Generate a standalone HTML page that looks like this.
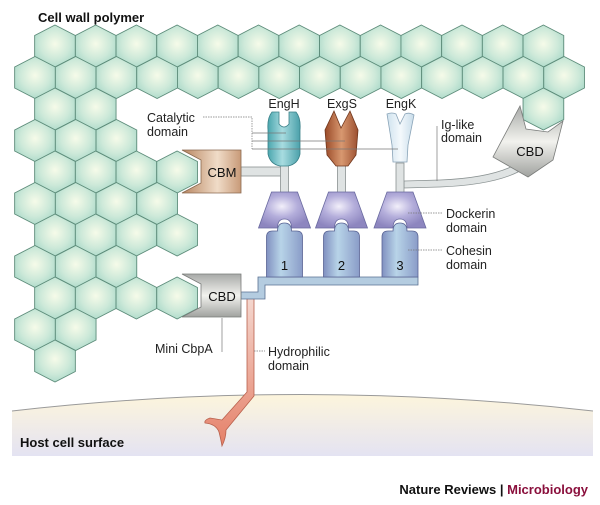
<!DOCTYPE html>
<html><head><meta charset="utf-8"><style>
html,body{margin:0;padding:0;background:#fff;}
svg{display:block;font-family:"Liberation Sans",sans-serif;}
</style></head><body>
<svg width="600" height="505" viewBox="0 0 600 505" xmlns="http://www.w3.org/2000/svg">
<defs>
<radialGradient id="hg" cx="0.5" cy="0.45" r="0.6">
<stop offset="0" stop-color="#f6fbe9"/><stop offset="0.6" stop-color="#cde9d9"/><stop offset="1" stop-color="#a9d8c8"/></radialGradient>
<polygon id="hx" points="0,-21 20.35,-10.5 20.35,10.5 0,21 -20.35,10.5 -20.35,-10.5" fill="url(#hg)" stroke="#5d8c7a" stroke-width="0.9"/>
<linearGradient id="host" x1="0" y1="0" x2="0" y2="1"><stop offset="0" stop-color="#fdf5dc"/><stop offset="1" stop-color="#e4e3f2"/></linearGradient>
<linearGradient id="cbm" x1="0" y1="0" x2="1" y2="0"><stop offset="0" stop-color="#b88560"/><stop offset="0.6" stop-color="#f0dcc8"/><stop offset="1" stop-color="#c89a78"/></linearGradient>
<linearGradient id="cbd" x1="0" y1="0" x2="0" y2="1"><stop offset="0" stop-color="#a8aaa8"/><stop offset="0.5" stop-color="#f2f2ee"/><stop offset="1" stop-color="#a0a29f"/></linearGradient>
<linearGradient id="rod" x1="0" y1="0" x2="0" y2="1"><stop offset="0" stop-color="#f4d8d0"/><stop offset="1" stop-color="#e58068"/></linearGradient>
<radialGradient id="dock" cx="0.45" cy="0.4" r="0.6"><stop offset="0" stop-color="#f2effa"/><stop offset="0.5" stop-color="#b4aedb"/><stop offset="1" stop-color="#8d86bf"/></radialGradient>
<linearGradient id="coh" x1="0" y1="0" x2="1" y2="0"><stop offset="0" stop-color="#8090c0"/><stop offset="0.4" stop-color="#b8d4e8"/><stop offset="1" stop-color="#8a9cc8"/></linearGradient>
<linearGradient id="engh" x1="0" y1="0" x2="1" y2="0"><stop offset="0" stop-color="#4aa6ae"/><stop offset="0.45" stop-color="#a8dce0"/><stop offset="1" stop-color="#4aa0aa"/></linearGradient>
<linearGradient id="exgs" x1="0" y1="0" x2="1" y2="0"><stop offset="0" stop-color="#9a4a28"/><stop offset="0.5" stop-color="#d89870"/><stop offset="1" stop-color="#9c5030"/></linearGradient>
<linearGradient id="engk" x1="0" y1="0" x2="1" y2="0"><stop offset="0" stop-color="#cfe2ee"/><stop offset="0.5" stop-color="#f4f9fc"/><stop offset="1" stop-color="#c8dcea"/></linearGradient>
<g id="mod">
<rect x="-4" y="163" width="8" height="31" fill="#dfe3e3" stroke="#8a9292" stroke-width="0.8"/>
<path d="M-13,192 L13,192 L26,228 L7,228 C7,222 5,219 0,219 C-5,219 -7,222 -7,228 L-26,228 Z" fill="url(#dock)" stroke="#6a6aa0" stroke-width="0.8"/>
<path d="M-18,237 Q-18,231 -12,231 L-7,231 C-7,226 -5,223 0,223 C5,223 7,226 7,231 L12,231 Q18,231 18,237 L18,277 L-18,277 Z" fill="url(#coh)" stroke="#5a6494" stroke-width="0.8"/>
</g>
</defs>

<!-- host cell -->
<path d="M12,411 Q300,378 593,411 L593,456 L12,456 Z" fill="url(#host)"/>
<path d="M12,411 Q300,378 593,411" fill="none" stroke="#9a9a9a" stroke-width="1"/>

<!-- hexes -->
<g>
<use href="#hx" x="55" y="46"/><use href="#hx" x="95.7" y="46"/><use href="#hx" x="136.4" y="46"/><use href="#hx" x="177.1" y="46"/><use href="#hx" x="217.8" y="46"/><use href="#hx" x="258.5" y="46"/><use href="#hx" x="299.2" y="46"/><use href="#hx" x="339.9" y="46"/><use href="#hx" x="380.6" y="46"/><use href="#hx" x="421.3" y="46"/><use href="#hx" x="462" y="46"/><use href="#hx" x="502.7" y="46"/><use href="#hx" x="543.4" y="46"/>
<use href="#hx" x="35" y="77.5"/><use href="#hx" x="75.7" y="77.5"/><use href="#hx" x="116.4" y="77.5"/><use href="#hx" x="157.1" y="77.5"/><use href="#hx" x="197.8" y="77.5"/><use href="#hx" x="238.5" y="77.5"/><use href="#hx" x="279.2" y="77.5"/><use href="#hx" x="319.9" y="77.5"/><use href="#hx" x="360.6" y="77.5"/><use href="#hx" x="401.3" y="77.5"/><use href="#hx" x="442" y="77.5"/><use href="#hx" x="482.7" y="77.5"/><use href="#hx" x="523.4" y="77.5"/><use href="#hx" x="564.1" y="77.5"/>
<use href="#hx" x="55" y="109"/><use href="#hx" x="95.7" y="109"/><use href="#hx" x="543.4" y="109"/>
<use href="#hx" x="35" y="140.5"/><use href="#hx" x="75.7" y="140.5"/><use href="#hx" x="116.4" y="140.5"/>
<use href="#hx" x="55" y="172"/><use href="#hx" x="95.7" y="172"/><use href="#hx" x="136.4" y="172"/><use href="#hx" x="177.1" y="172"/>
<use href="#hx" x="35" y="203.5"/><use href="#hx" x="75.7" y="203.5"/><use href="#hx" x="116.4" y="203.5"/><use href="#hx" x="157.1" y="203.5"/>
<use href="#hx" x="55" y="235"/><use href="#hx" x="95.7" y="235"/><use href="#hx" x="136.4" y="235"/><use href="#hx" x="177.1" y="235"/>
<use href="#hx" x="35" y="266.5"/><use href="#hx" x="75.7" y="266.5"/><use href="#hx" x="116.4" y="266.5"/>
<use href="#hx" x="55" y="298"/><use href="#hx" x="95.7" y="298"/><use href="#hx" x="136.4" y="298"/><use href="#hx" x="177.1" y="298"/>
<use href="#hx" x="35" y="329.5"/><use href="#hx" x="75.7" y="329.5"/>
<use href="#hx" x="55" y="361"/>
</g>

<!-- CBM -->
<rect x="241" y="167" width="42" height="9" fill="#dfe3e3" stroke="#8a9292" stroke-width="0.8"/>
<polygon points="182,150 241,150 241,193 182,193 201,183 201,160" fill="url(#cbm)" stroke="#8a6a50" stroke-width="0.8"/>
<text x="222" y="177" font-size="13" text-anchor="middle" fill="#111">CBM</text>

<!-- hydrophilic rod -->
<path d="M247,297 L247,392 L222,420 L210,418 Q204,420 205,423 Q216,424 219,432 Q221,440 222,446 Q226,438 226,430 L254,396 L254,297 Z" fill="url(#rod)" stroke="#b8604c" stroke-width="0.8"/>

<!-- base bar -->
<path d="M241,292 L258,292 L258,277 L418,277 L418,285 L265,285 L265,299 L241,299 Z" fill="#b4cce0" stroke="#5a7092" stroke-width="0.8"/>
<!-- CBD lower -->
<polygon points="182,274 241,274 241,317 182,317 201,307 201,284" fill="url(#cbd)" stroke="#7a7c7a" stroke-width="0.8"/>
<text x="222" y="301" font-size="13" text-anchor="middle" fill="#111">CBD</text>

<!-- Ig-like connector -->
<path d="M404,181 L440,180 Q490,178 515,165 L518,172 Q492,185 440,187 L404,188 Z" fill="#dfe3e3" stroke="#8a9292" stroke-width="0.8"/>
<!-- CBD right -->
<polygon points="520,106 526,129 548,132 563,121 553,160 528,177 493,157" fill="url(#cbd)" stroke="#7a7c7a" stroke-width="0.8"/>
<text x="530" y="156" font-size="13" text-anchor="middle" fill="#111">CBD</text>

<!-- modules -->
<use href="#mod" x="284.5"/>
<use href="#mod" x="341.5"/>
<use href="#mod" x="400"/>
<text x="284.5" y="270" font-size="13" text-anchor="middle" fill="#111">1</text>
<text x="341.5" y="270" font-size="13" text-anchor="middle" fill="#111">2</text>
<text x="400" y="270" font-size="13" text-anchor="middle" fill="#111">3</text>

<!-- catalytic domains -->
<path d="M272,112 L279,112 L279,124 Q284,130 289,124 L289,112 L296,112 Q301,118 300,130 L300,154 Q298,164 288,166 L280,166 Q270,164 268,154 L268,130 Q267,118 272,112 Z" fill="url(#engh)" stroke="#3a8088" stroke-width="0.8"/>
<path d="M334,111 L341,128 L350,111 L358,130 L356,155 L348,166 L336,166 L327,155 L325,130 Z" fill="url(#exgs)" stroke="#70361c" stroke-width="0.8"/>
<path d="M387,114 Q392,112 396,114 L400,124 L405,114 Q409,112 414,115 L408,145 L407,162 L393,162 L392,145 Z" fill="url(#engk)" stroke="#8aa4b8" stroke-width="0.8"/>

<!-- leader lines -->
<g stroke="#777" stroke-width="0.7" fill="none">
<path d="M203,117 L252,117 L252,149" stroke-dasharray="1.5,1"/>
<path d="M252,133 L286,133 M252,141 L345,141 M252,149 L398,149"/>
<path d="M437,126 L437,181"/>
<path d="M408,213 L443,213" stroke-dasharray="1.5,1"/>
<path d="M408,250 L443,250" stroke-dasharray="1.5,1"/>
<path d="M222,318 L222,352"/>
<path d="M254,351 L265,351" stroke-dasharray="1.5,1"/>
</g>

<!-- labels -->
<g font-size="12.5" fill="#222">
<text x="38" y="22" font-weight="bold" font-size="13" fill="#111">Cell wall polymer</text>
<text x="147" y="122">Catalytic</text><text x="147" y="136">domain</text>
<text x="284" y="108" text-anchor="middle">EngH</text>
<text x="342" y="108" text-anchor="middle">ExgS</text>
<text x="401" y="108" text-anchor="middle">EngK</text>
<text x="441" y="129">Ig-like</text><text x="441" y="142">domain</text>
<text x="446" y="218">Dockerin</text><text x="446" y="232">domain</text>
<text x="446" y="255">Cohesin</text><text x="446" y="269">domain</text>
<text x="155" y="353">Mini CbpA</text>
<text x="268" y="356">Hydrophilic</text><text x="268" y="370">domain</text>
<text x="20" y="447" font-weight="bold" font-size="13" fill="#111">Host cell surface</text>
<text x="588" y="494" text-anchor="end" font-weight="bold" font-size="13"><tspan fill="#111">Nature Reviews | </tspan><tspan fill="#8a0f3c">Microbiology</tspan></text>
</g>
</svg>
</body></html>
